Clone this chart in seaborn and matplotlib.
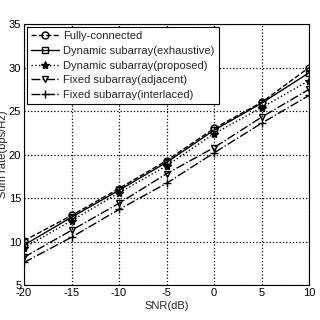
import pandas as pd
import seaborn as sns
import matplotlib
matplotlib.use("Agg")
import matplotlib.pyplot as plt

snr = [-20, -15, -10, -5, 0, 5, 10]
fully_connected = [10.1, 13.0, 16.1, 19.3, 23.0, 26.0, 30.0]
dyn_exhaustive = [9.6, 12.8, 15.9, 19.1, 22.8, 25.9, 29.4]
dyn_proposed = [9.3, 12.4, 15.6, 18.7, 22.4, 25.4, 28.5]
fixed_adjacent = [8.2, 11.3, 14.4, 17.8, 20.8, 24.3, 27.5]
fixed_interlaced = [7.6, 10.5, 13.7, 16.7, 20.2, 23.6, 26.8]

names = ["Fully-connected", "Dynamic subarray(exhaustive)", "Dynamic subarray(proposed)",
         "Fixed subarray(adjacent)", "Fixed subarray(interlaced)"]
series = [fully_connected, dyn_exhaustive, dyn_proposed, fixed_adjacent, fixed_interlaced]

rows = []
for name, vals in zip(names, series):
    for x, y in zip(snr, vals):
        rows.append({"SNR": x, "rate": y, "scheme": name})
df = pd.DataFrame(rows)

sns.set_style("white")
plt.rcParams['font.family'] = ['Liberation Sans', 'DejaVu Sans']
plt.rcParams['axes.unicode_minus'] = False  # matlab uses plain hyphen

# style for each curve, matlab-ish
styles = {
    "Fully-connected": dict(ls="--", marker="o", mfc="none", ms=5),
    "Dynamic subarray(exhaustive)": dict(ls="-", marker="s", mfc="none", ms=5),
    "Dynamic subarray(proposed)": dict(ls=":", marker="*", mfc="black", ms=6),
    "Fixed subarray(adjacent)": dict(ls="-.", marker="v", mfc="none", ms=5),
    "Fixed subarray(interlaced)": dict(ls="-.", marker="+", mfc="black", ms=6),
}

fig = plt.figure(figsize=(3.2, 3.2), dpi=100)
ax = fig.add_axes([0.075, 0.109, 0.891, 0.816])

for name in names:
    st = styles[name]
    sns.lineplot(data=df[df["scheme"] == name], x="SNR", y="rate", ax=ax,
                 color="black", linestyle=st["ls"], marker=st["marker"],
                 markerfacecolor=st["mfc"], markeredgecolor="black",
                 markersize=st["ms"], markeredgewidth=1.0, linewidth=1.0,
                 label=name)

ax.set_xlim(-20, 10)
ax.set_ylim(5, 35)
ax.set_xticks(snr)
ax.set_yticks([5, 10, 15, 20, 25, 30, 35])
ax.tick_params(direction="in", labelsize=8, length=3, colors="black", pad=2)
ax.grid(True, linestyle=":", color="black", linewidth=0.9)
for sp in ax.spines.values():
    sp.set_color("black")
    sp.set_linewidth(0.8)

ax.set_xlabel("SNR(dB)", fontsize=8, labelpad=2)
ax.set_ylabel("Sum rate(bps/Hz)", fontsize=8)
# label sits at the very left edge, partly cut off like the original
ax.yaxis.set_label_coords(-0.056, 0.5)

leg = ax.legend(loc="upper left", fontsize=8, frameon=True, fancybox=False,
                edgecolor="black", framealpha=1, borderaxespad=0.3,
                handlelength=2.5, labelspacing=0.42, borderpad=0.35,
                handletextpad=0.4)
leg.get_frame().set_linewidth(0.8)

fig.savefig("out.png", dpi=100)
